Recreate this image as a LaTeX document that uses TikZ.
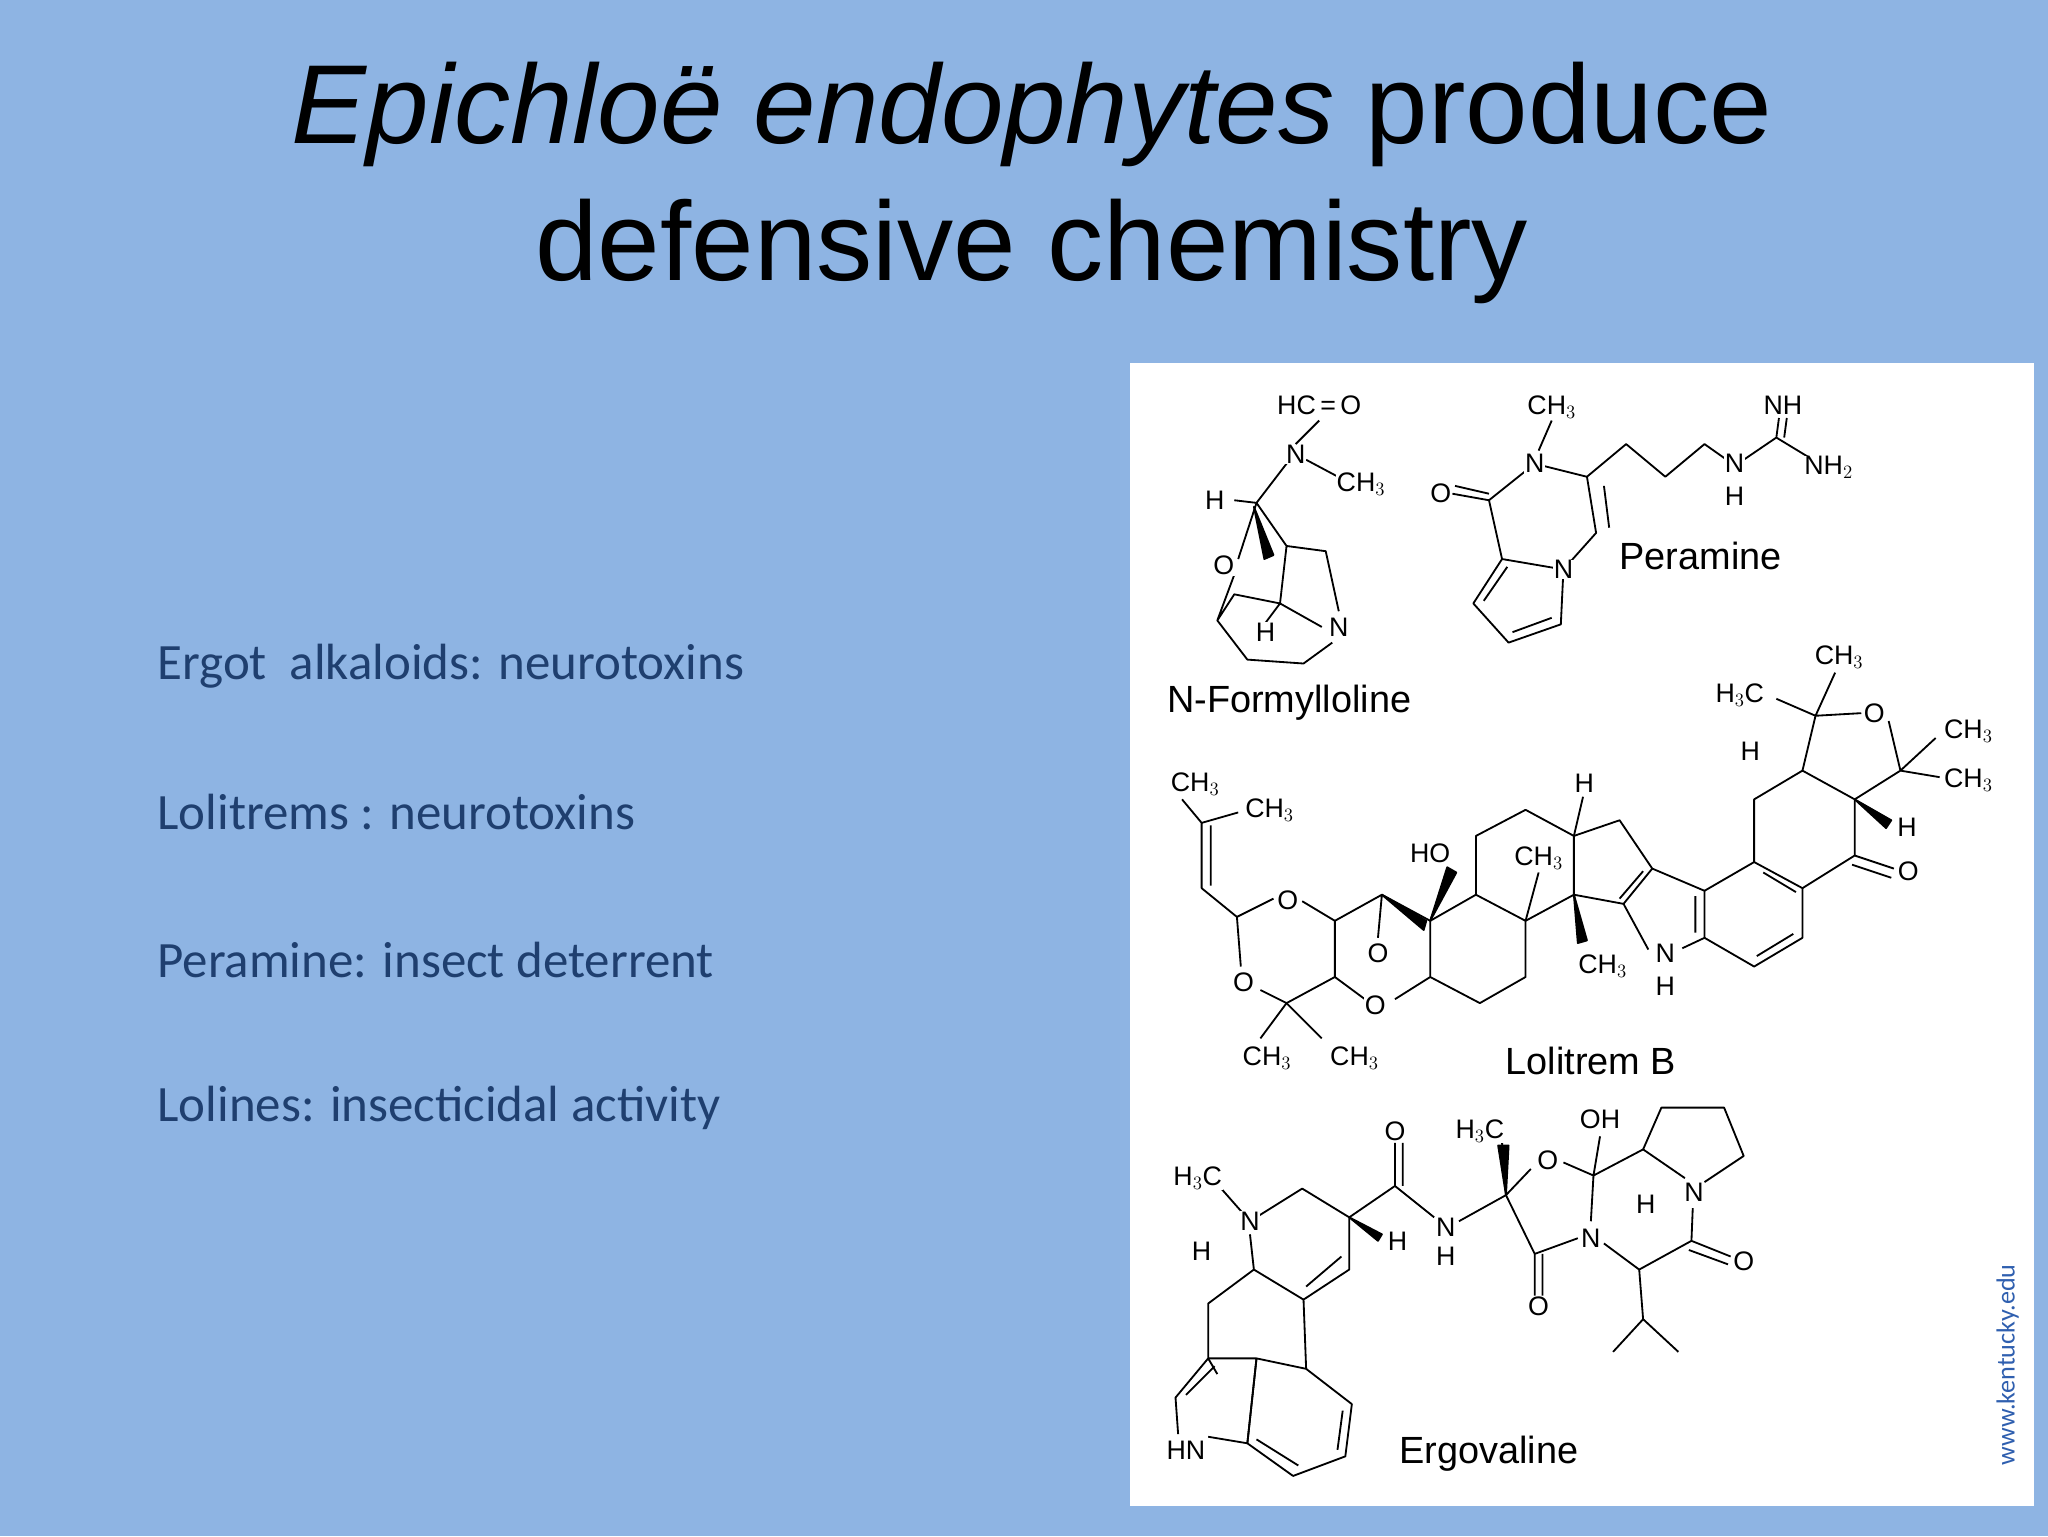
\documentclass[tikz,border=0pt]{standalone}
\usepackage{fontspec}
\setmainfont{Liberation Sans}
\newfontfamily\carfont{Carlito}
\definecolor{bg}{HTML}{8EB4E3}
\definecolor{tx}{HTML}{1F3F6F}
\definecolor{wm}{HTML}{2F5FAF}
\begin{document}
\begin{tikzpicture}[x=1pt,y=-1pt,
  bd/.style={line width=1.4pt,line join=round},
  atm/.style={inner sep=0.5pt,fill=white,font=\fontsize{20.5}{20}\selectfont},
  lab/.style={font=\fontsize{29}{29}\selectfont}]
\useasboundingbox[fill=bg] (0,0) rectangle (1568,1176);
\node[font=\fontsize{86}{105}\selectfont,align=center] (t) at (790,140) {\textit{Epichloë endophytes} produce\\defensive chemistry};
\foreach \y/\s [count=\i] in {510/{Ergot\ \ alkaloids: neurotoxins},622/{Lolitrems : neurotoxins},735/{Peramine: insect deterrent},848/{Lolines: insecticidal activity}}
  \node[anchor=west,text=tx,font=\carfont\fontsize{39}{39}\selectfont] (l\i) at (117,\y) {\s};
\fill[white] (865,278) rectangle (1557,1153);
\node[rotate=90,text=wm,font=\carfont\fontsize{20}{20}\selectfont] (w) at (1537,1045) {www.kentucky.edu};
% N-Formylloline
\draw[bd] (1010,322)--(992,340) (1000,352)--(1030,368) (985,355)--(962,385) (945,383)--(962,385);
\draw[bd] (962,385)--(985,418)--(1015,422)--(1025,468) (962,385)--(948,428) (945,440)--(932,475)--(955,505)--(998,508)--(1020,492) (932,475)--(945,455)--(980,462)--(1012,480) (985,418)--(980,462) (980,462)--(968,478);
\draw[bd,fill] (960,388)--(975,425)--(968,428)--cycle;
\node[atm] (hc) at (1010,310) {HC\,=\,O};
\node[atm] (fn) at (992,348) {N};
\node[atm] (fc) at (1042,371) {CH$_3$};
\node[atm] (fh) at (930,383) {H};
\node[atm] (fo) at (937,433) {O};
\node[atm] (fn2) at (1025,480) {N};
\node[atm] (fh2) at (969,484) {H};
\node[lab] (nf) at (987,538) {N-Formylloline};
% Peramine
\draw[bd] (1188,322)--(1178,345) (1175,355)--(1215,365)--(1222,408)--(1197,436) (1175,355)--(1140,383)--(1150,428)--(1197,436) (1140,383)--(1112,378) (1140,378)--(1114,372) (1228,372)--(1232,404);
\draw[bd] (1197,436)--(1195,478)--(1155,492)--(1128,462)--(1150,428) (1188,473)--(1158,484) (1136,460)--(1154,434);
\draw[bd] (1215,365)--(1245,340)--(1275,365)--(1305,340)--(1322,352) (1335,352)--(1360,335)--(1388,352) (1360,335)--(1362,320) (1366,335)--(1368,320);
\node[atm] (pc) at (1188,312) {CH$_3$};
\node[atm] (pn) at (1175,355) {N};
\node[atm] (po) at (1103,378) {O};
\node[atm] (pn2) at (1197,436) {N};
\node[atm] (pn3) at (1328,355) {N};
\node[atm] (ph) at (1328,380) {H};
\node[atm] (pnh) at (1365,310) {NH};
\node[atm] (pnh2) at (1400,358) {NH$_2$};
\node[lab] (pl) at (1302,426) {Peramine};
% Lolitrem B
\draw[bd] (947,702)--(975,688) (997,690)--(1022,705)--(1022,748)--(985,768)--(965,758) (947,702)--(950,740);
\draw[bd] (1022,705)--(1058,685)--(1095,705)--(1095,748)--(1068,765) (1045,765)--(1022,748) (1058,685)--(1055,718) (1058,685)--(1095,705);
\draw[bd] (1095,705)--(1130,685)--(1168,705)--(1168,748)--(1133,768)--(1095,748);
\draw[bd] (1130,685)--(1130,640)--(1168,620)--(1205,640)--(1205,685)--(1168,705);
\draw[bd] (1205,640)--(1240,628)--(1265,665)--(1243,692)--(1205,685) (1258,667)--(1240,688);
\draw[bd] (1265,665)--(1305,682)--(1305,718)--(1288,726) (1262,727)--(1243,692) (1298,686)--(1298,714);
\draw[bd] (1305,682)--(1343,660)--(1380,680)--(1380,718)--(1343,740)--(1305,718) (1350,668)--(1375,683) (1345,732)--(1373,715);
\draw[bd] (1343,660)--(1343,612)--(1380,590)--(1420,612)--(1420,655)--(1380,680) (1420,655)--(1450,665) (1418,662)--(1448,672);
\draw[bd] (1380,590)--(1390,548)--(1425,546) (1446,552)--(1455,590)--(1420,612) (1390,548)--(1360,535) (1390,548)--(1405,515) (1455,590)--(1482,565) (1455,590)--(1485,595);
\draw[bd] (947,702)--(920,680)--(920,630) (927,678)--(927,632) (920,630)--(905,612) (920,630)--(948,622);
\draw[bd] (985,768)--(965,795) (985,768)--(1012,795) (1095,705)--(1110,665) (1168,705)--(1178,668) (1205,685)--(1212,720) (1205,640)--(1212,610);
\draw[bd,fill] (1095,705)--(1108,664)--(1115,668)--cycle;
\draw[bd,fill] (1420,612)--(1448,628)--(1444,634)--cycle;
\draw[bd,fill] (1205,685)--(1208,722)--(1215,720)--cycle;
\draw[bd,fill] (1058,685)--(1092,705)--(1090,712)--cycle;
\node[atm] (lo1) at (986,689) {O};
\node[atm] (lo2) at (952,752) {O};
\node[atm] (lc1) at (915,600) {CH$_3$};
\node[atm] (lc2) at (972,620) {CH$_3$};
\node[atm] (lc3) at (970,810) {CH$_3$};
\node[atm] (lc4) at (1037,810) {CH$_3$};
\node[atm] (lho) at (1095,653) {HO};
\node[atm] (lo3) at (1055,730) {O};
\node[atm] (lo4) at (1053,770) {O};
\node[atm] (lc5) at (1178,657) {CH$_3$};
\node[atm] (lc6) at (1227,740) {CH$_3$};
\node[atm] (lh1) at (1213,600) {H};
\node[atm] (ln) at (1275,730) {N};
\node[atm] (lh2) at (1275,755) {H};
\node[atm] (lc7) at (1332,532) {H$_3$C};
\node[atm] (lc8) at (1408,503) {CH$_3$};
\node[atm] (lo5) at (1435,546) {O};
\node[atm] (lc9) at (1507,560) {CH$_3$};
\node[atm] (lc10) at (1507,597) {CH$_3$};
\node[atm] (lh3) at (1340,575) {H};
\node[atm] (lh4) at (1460,633) {H};
\node[atm] (lo6) at (1461,667) {O};
\node[lab] (lb) at (1218,812) {Lolitrem B};
% Ergovaline
\draw[bd] (957,935)--(997,910)--(1033,932)--(1033,972)--(998,995)--(960,972)--(957,945) (1027,962)--(1000,985) (957,935)--(935,910);
\draw[bd] (960,972)--(925,998)--(925,1040)--(962,1040)--(1000,1048)--(998,995) (962,1040)--(1000,1048);
\draw[bd] (1000,1048)--(1035,1075)--(1030,1115)--(990,1130)--(955,1105)--(962,1040) (1028,1080)--(1024,1110) (994,1122)--(962,1102);
\draw[bd] (925,1040)--(900,1070)--(902,1098) (925,1040)--(932,1052) (962,1040)--(955,1105) (925,1100)--(955,1105) (908,1068)--(930,1046);
\draw[bd] (1033,932)--(1068,908)--(1068,875) (1074,908)--(1074,875) (1068,908)--(1098,932) (1117,935)--(1153,915)--(1150,875) (1153,915)--(1172,895) (1197,890)--(1220,900)--(1225,870) (1220,900)--(1218,935) (1153,915)--(1175,960)--(1208,948) (1175,960)--(1175,992) (1181,960)--(1181,992);
\draw[bd] (1220,900)--(1258,880)--(1290,902) (1296,925)--(1295,950)--(1255,972)--(1228,952) (1295,950)--(1325,962) (1293,957)--(1323,968);
\draw[bd] (1258,880)--(1272,848)--(1320,848)--(1335,885)--(1305,905) (1255,972)--(1258,1010)--(1235,1035) (1258,1010)--(1285,1035);
\draw[bd,fill] (1033,932)--(1058,945)--(1055,950)--cycle;
\draw[bd,fill] (1153,915)--(1147,877)--(1155,877)--cycle;
\node[atm] (eh3c) at (917,902) {H$_3$C};
\node[atm] (en) at (957,935) {N};
\node[atm] (eh) at (920,958) {H};
\node[atm] (eo) at (1068,866) {O};
\node[atm] (eh2) at (1070,950) {H};
\node[atm] (en2) at (1107,940) {N};
\node[atm] (eh4) at (1107,962) {H};
\node[atm] (eh3c2) at (1133,866) {H$_3$C};
\node[atm] (eo2) at (1185,888) {O};
\node[atm] (eoh) at (1225,857) {OH};
\node[atm] (en3) at (1218,948) {N};
\node[atm] (eh5) at (1260,922) {H};
\node[atm] (en4) at (1297,913) {N};
\node[atm] (eo3) at (1335,966) {O};
\node[atm] (eo4) at (1178,1000) {O};
\node[atm] (ehn) at (908,1110) {HN};
\node[lab] (eg) at (1140,1113) {Ergovaline};
\end{tikzpicture}
\end{document}
